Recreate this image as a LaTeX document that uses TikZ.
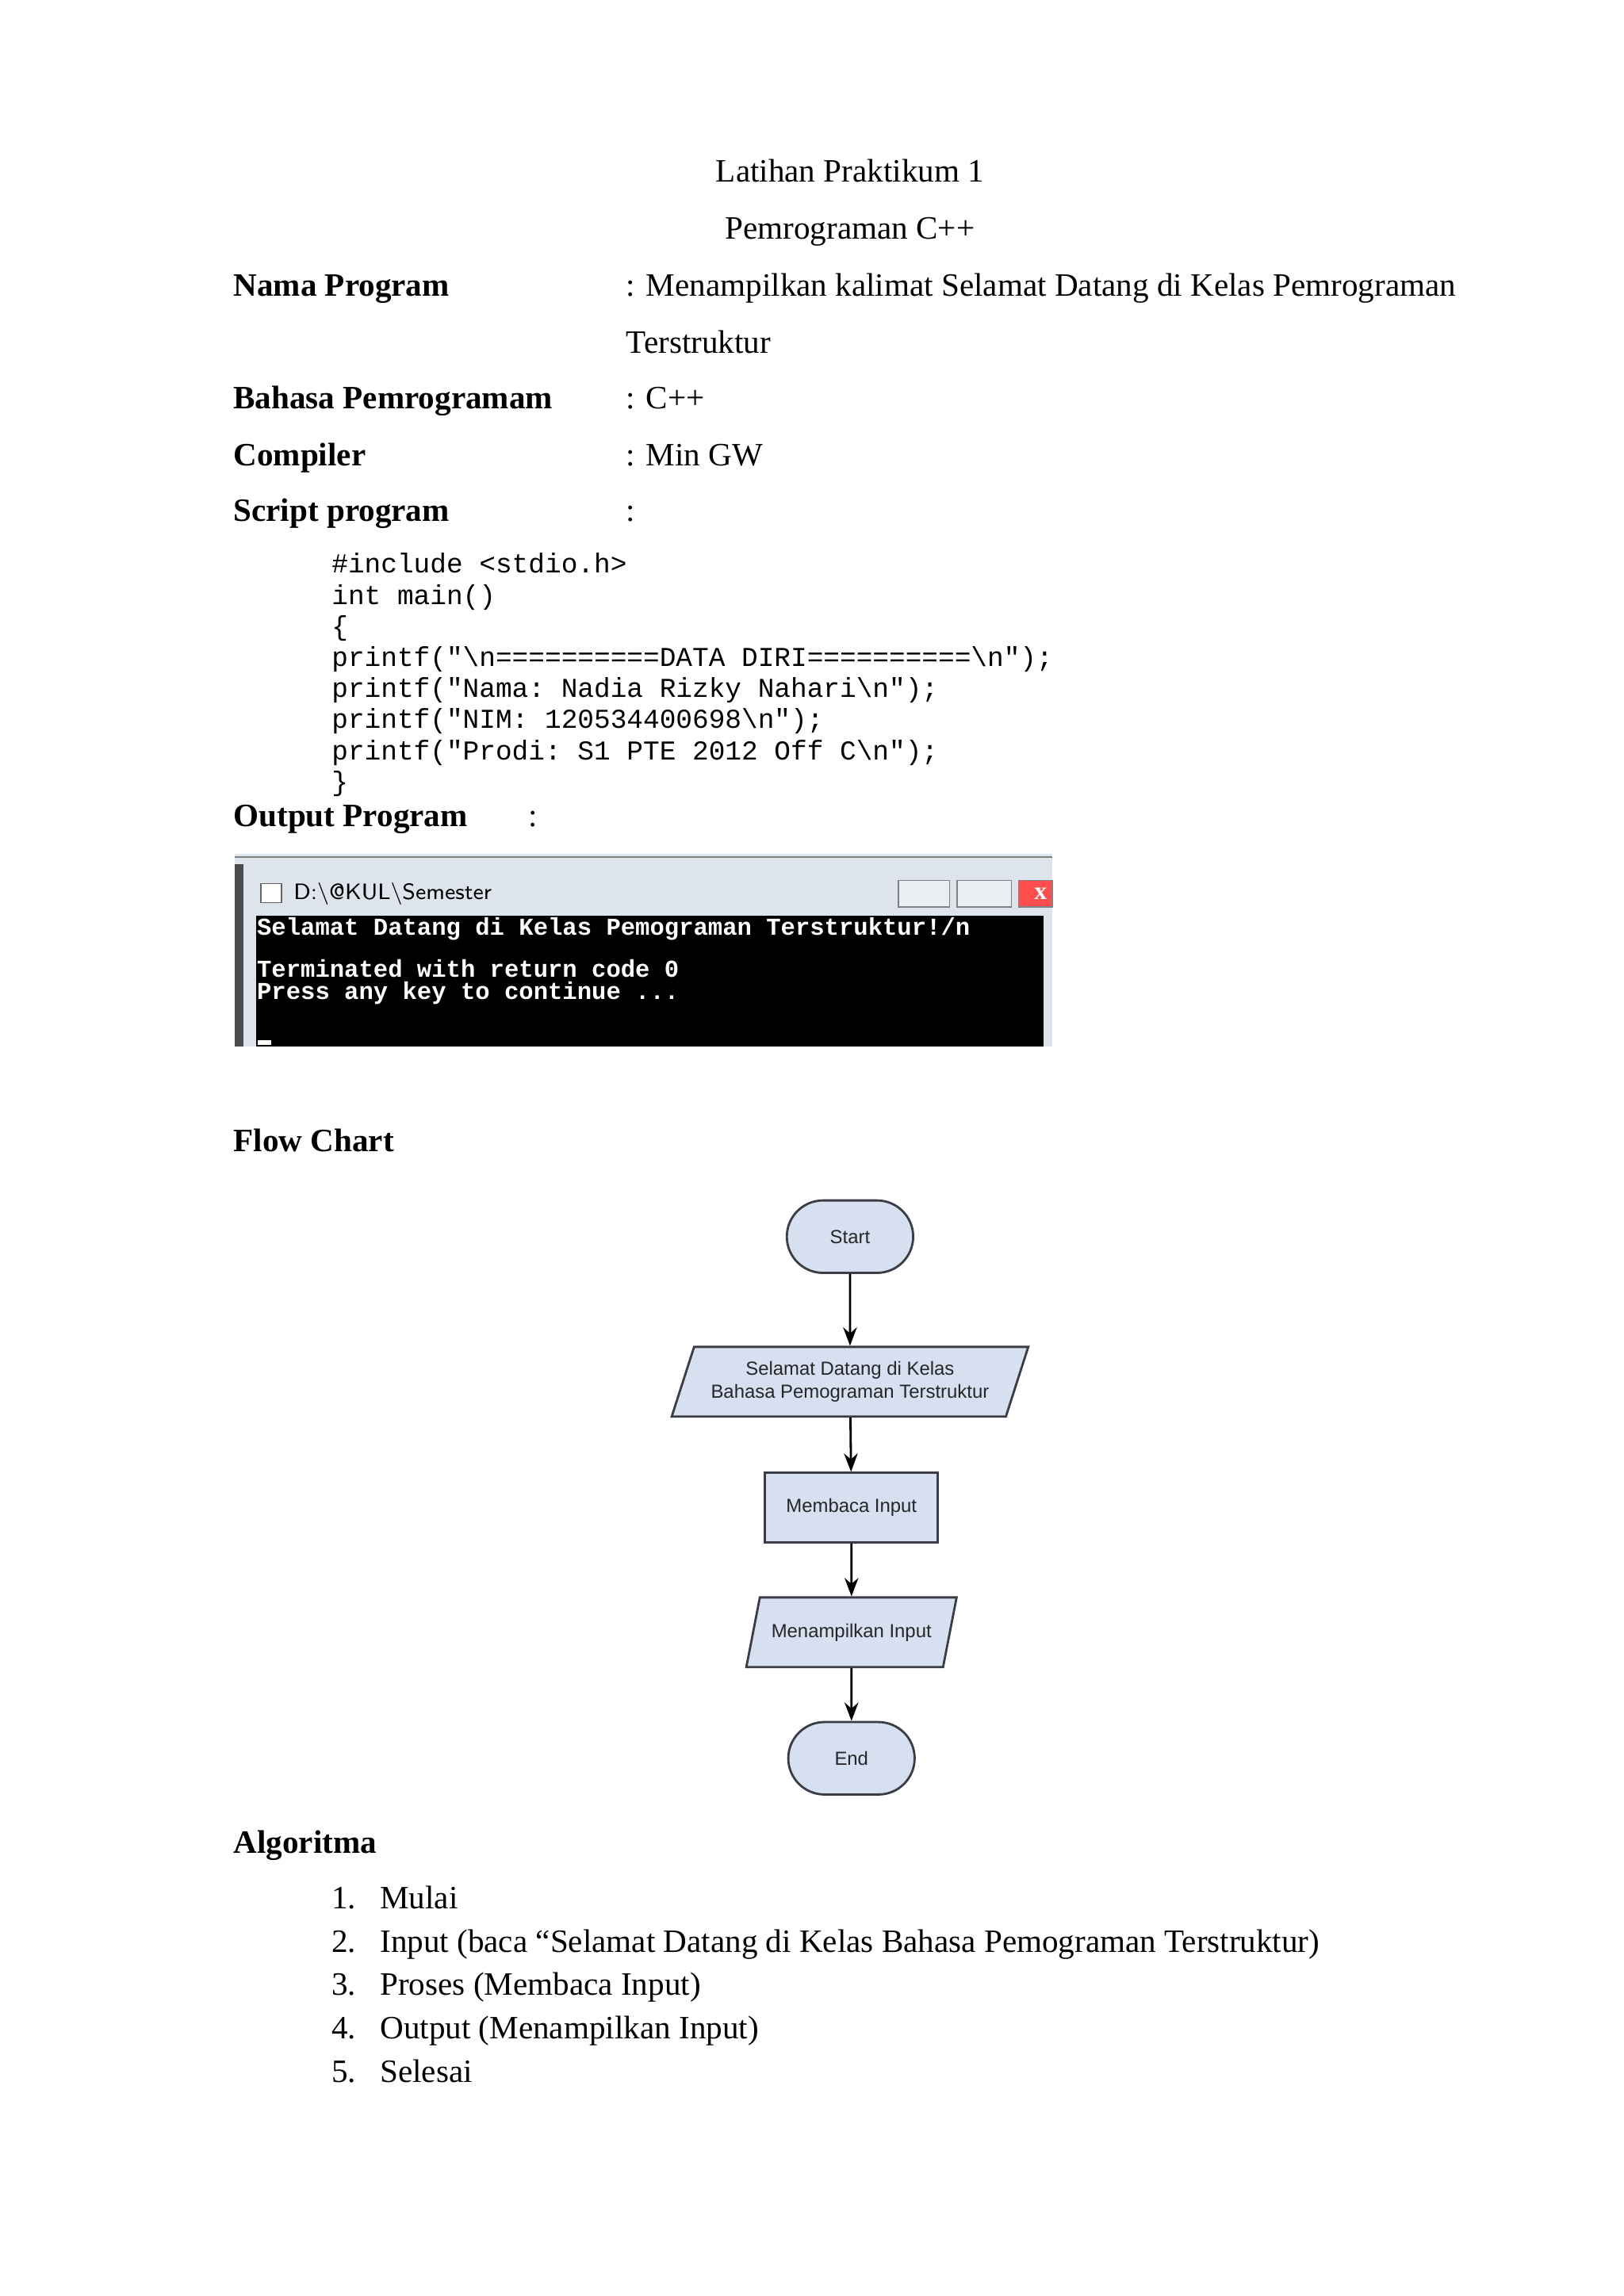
\documentclass[tikz,border=0pt]{standalone}
\usepackage{fontspec}
\setmainfont{Liberation Serif}
\setmonofont{Liberation Mono}
\newfontfamily\flowfont{Liberation Sans}
\usetikzlibrary{arrows.meta,shapes.geometric,shapes.misc,positioning}
\definecolor{boxfill}{RGB}{214,224,240}
\definecolor{boxdraw}{RGB}{60,60,70}
\definecolor{bargray}{RGB}{222,228,236}
\tikzset{
  >=Stealth,
  txt/.style={anchor=base west,inner sep=0,font=\fontsize{11.7}{14}\selectfont},
  lbl/.style={txt,font=\fontsize{11.7}{14}\selectfont\bfseries},
  code/.style={anchor=base west,inner sep=0,font=\fontsize{9.8}{11}\ttfamily},
  cons/.style={anchor=base west,inner sep=0,white,font=\fontsize{8.7}{10}\ttfamily\bfseries},
  flow/.style={draw=boxdraw,fill=boxfill,thick,font=\fontsize{6.8}{8}\flowfont,align=center,text=black!85},
  term/.style={flow,rounded rectangle,minimum width=52pt,minimum height=26pt},
  proc/.style={flow,rectangle,minimum width=62pt,minimum height=25pt},
  io/.style={flow,trapezium,trapezium left angle=70,trapezium right angle=110,trapezium stretches=true,minimum height=25pt},
  connect/.style={->,thick,black}
}
\begin{document}
\begin{tikzpicture}[x=0.01848cm,y=-0.01848cm]
  \useasboundingbox[fill=white] (0,0) rectangle (1108,1567);

  % header
  \node[txt,anchor=base] (title) at (580,124) {Latihan Praktikum 1};
  \node[txt,anchor=base] (subtitle) at (580,163) {Pemrograman C++};

  \node[lbl] (nama) at (159,202) {Nama Program};
  \node[txt] (namav) at (427,202) {: Menampilkan kalimat Selamat Datang di Kelas Pemrograman};
  \node[txt] (namav2) at (427,241) {Terstruktur};
  \node[lbl] (bahasa) at (159,279) {Bahasa Pemrogramam};
  \node[txt] (bahasav) at (427,279) {: C++};
  \node[lbl] (comp) at (159,318) {Compiler};
  \node[txt] (compv) at (427,318) {: Min GW};
  \node[lbl] (script) at (159,356) {Script program};
  \node[txt] (scriptv) at (427,356) {:};

  % script
  \foreach \t [count=\i] in {%
    {\#include <stdio.h>},
    {int main()},
    {\{},
    {printf("\textbackslash n==========DATA DIRI==========\textbackslash n");},
    {printf("Nama: Nadia Rizky Nahari\textbackslash n");},
    {printf("NIM: 120534400698\textbackslash n");},
    {printf("Prodi: S1 PTE 2012 Off C\textbackslash n");},
    {\}}}
    \node[code] (code\i) at (226,370+21.2*\i) {\t};

  \node[lbl] (output) at (159,564) {Output Program};
  \node[txt] (outputv) at (360,564) {:};

  % console window
  \fill[bargray] (160,583) rectangle (718,714);
  \draw[black!50] (160,585) -- (718,585);
  \fill[black!70] (160,590) rectangle (166,714);
  \node[anchor=west,inner sep=0,font=\fontsize{8}{9}\sffamily] (wtitle) at (200,610) {D:\textbackslash @KUL\textbackslash Semester};
  \draw[black!60,fill=white] (178,603) rectangle (192,616);
  \draw[black!50,fill=bargray!60] (613,601) rectangle (648,619);
  \draw[black!50,fill=bargray!60] (653,601) rectangle (690,619);
  \draw[black!50,fill=red!70] (695,601) rectangle (718,619);
  \node[white,font=\bfseries\small] (wx) at (710,610) {x};
  \fill[black] (175,625) rectangle (712,714);
  \node[cons] (c1) at (175,638) {Selamat Datang di Kelas Pemograman Terstruktur!/n};
  \node[cons] (c2) at (175,667) {Terminated with return code 0};
  \node[cons] (c3) at (175,682) {Press any key to continue ...};
  \fill[white] (176,710) rectangle (185,713);

  % flow chart
  \node[lbl] (fc) at (159,786) {Flow Chart};
  \node[term] (start) at (580,844) {Start};
  \node[io,minimum width=128pt] (read) at (580,943) {Selamat Datang di Kelas\\Bahasa Pemograman Terstruktur};
  \node[proc] (proc) at (581,1029) {Membaca Input};
  \node[io,minimum width=76pt] (show) at (581,1114) {Menampilkan Input};
  \node[term] (end) at (581,1200) {End};
  \draw[connect] (start) -- (read);
  \draw[connect] (read) -- (proc);
  \draw[connect] (proc) -- (show);
  \draw[connect] (show) -- (end);

  % algoritma
  \node[lbl] (algo) at (159,1265) {Algoritma};
  \foreach \t [count=\i] in {%
    Mulai,
    {Input (baca “Selamat Datang di Kelas Bahasa Pemograman Terstruktur)},
    {Proses (Membaca Input)},
    {Output (Menampilkan Input)},
    Selesai}{
    \node[txt] (num\i) at (226,1273+29.6*\i) {\i.};
    \node[txt] (item\i) at (259,1273+29.6*\i) {\t};
  }
\end{tikzpicture}
\end{document}
